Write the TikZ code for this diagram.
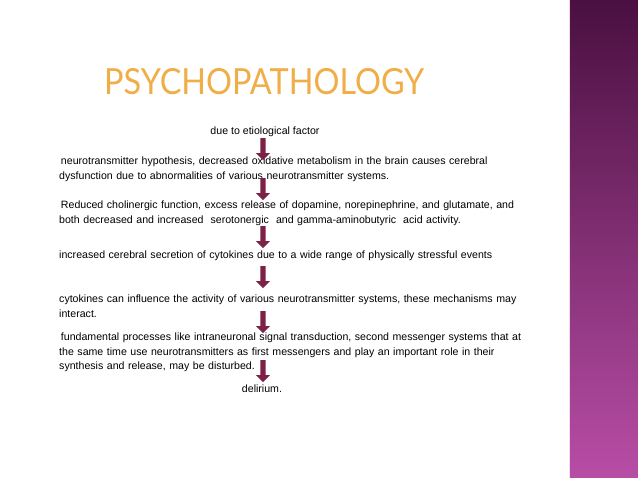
\documentclass[tikz,border=0pt]{standalone}
\usepackage{fontspec}
\setmainfont{Liberation Sans}
\newfontfamily\titlefont{Lato}
\usetikzlibrary{shapes.arrows}
\definecolor{barTop}{HTML}{4A1040}
\definecolor{barBot}{HTML}{B84DA6}
\definecolor{arrowc}{HTML}{7D2146}
\definecolor{titlec}{HTML}{F0AE48}
\tikzset{
  txt/.style={anchor=north west,inner sep=0pt,align=left,font=\fontsize{10.6}{14.5}\selectfont,text width=480pt},
  ctr/.style={anchor=north,inner sep=0pt,font=\fontsize{10.6}{14.5}\selectfont},
  darr/.style={single arrow,draw=none,fill=arrowc,rotate=-90,minimum height=22pt,minimum width=14pt,single arrow head extend=3.5pt,inner sep=2pt,anchor=tail}
}
\begin{document}
\begin{tikzpicture}[x=1pt,y=-1pt]
\useasboundingbox (0,0) rectangle (638,478);
\fill[white] (0,0) rectangle (638,478);
\shade[top color=barTop,bottom color=barBot] (569,0) rectangle (638,478);
\draw[white!80!barBot,line width=1pt] (569.5,0) -- (569.5,478);
\node[anchor=west,inner sep=0pt,text=titlec,xscale=0.9,font=\titlefont\fontsize{36}{36}\selectfont] (title) at (104,82) {PSYCHOPATHOLOGY};
\node[ctr] (t0) at (265,127) {due to etiological factor};
\node[txt] (t1) at (59,157) {\,neurotransmitter hypothesis, decreased oxidative metabolism in the brain causes cerebral\\dysfunction due to abnormalities of various neurotransmitter systems.};
\node[txt] (t2) at (59,201) {\,Reduced cholinergic function, excess release of dopamine, norepinephrine, and glutamate, and\\both decreased and increased\ \ serotonergic\ \ and gamma-aminobutyric\ \ acid activity.};
\node[txt] (t3) at (59,251) {increased cerebral secretion of cytokines due to a wide range of physically stressful events};
\node[txt] (t4) at (59,295) {cytokines can influence the activity of various neurotransmitter systems, these mechanisms may\\interact.};
\node[txt] (t5) at (59,333) {\,fundamental processes like intraneuronal signal transduction, second messenger systems that at\\the same time use neurotransmitters as first messengers and play an important role in their\\synthesis and release, may be disturbed.};
\node[ctr] (t6) at (262,385) {delirium.};
\node[darr] (a1) at (263,138) {};
\node[darr] (a2) at (263,178) {};
\node[darr] (a3) at (263,226) {};
\node[darr] (a4) at (263,266) {};
\node[darr] (a5) at (263,311) {};
\node[darr] (a6) at (263,360) {};
\end{tikzpicture}
\end{document}
